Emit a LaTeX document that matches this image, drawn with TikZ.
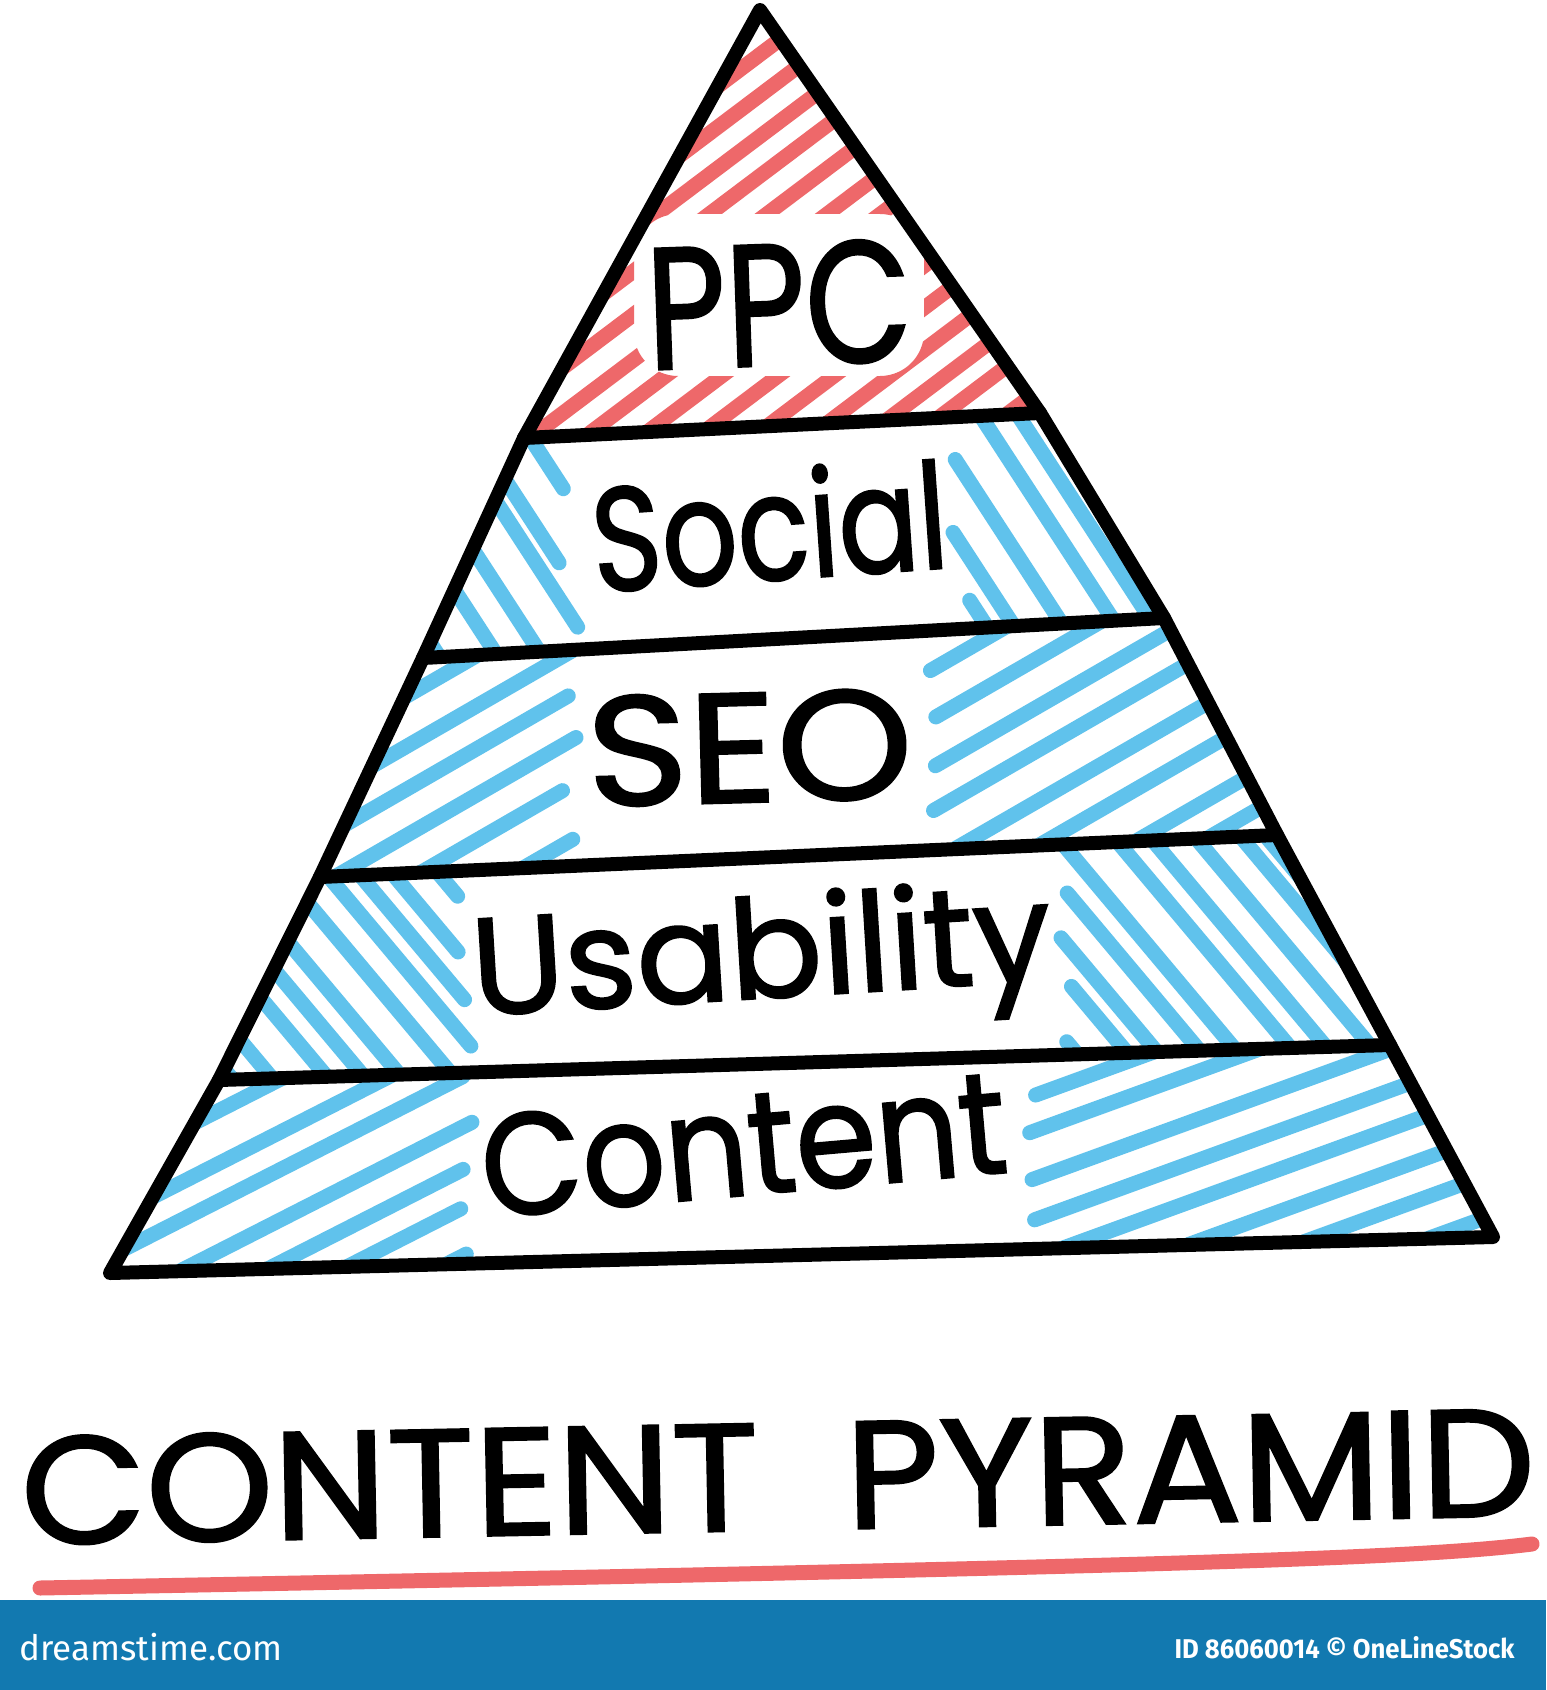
\documentclass[tikz,border=0pt]{standalone}
\usepackage{fontspec}
\usepackage{graphicx}
\newfontfamily\hand{Poppins}[FakeBold=1.6]
\newfontfamily\barfont{Fira Sans}
\definecolor{hatchred}{RGB}{238,104,106}
\definecolor{hatchblue}{RGB}{96,194,236}
\definecolor{barblue}{RGB}{18,121,176}
\tikzset{
  pyramidline/.style={line width=7pt, line join=round, line cap=round, black},
  hatchline/.style={line width=7.5pt, line cap=round},
  bandtext/.style={inner sep=0pt, anchor=base},
}
% #1 x start, #2 first y, #3 y step, #4 count, #5 angle, #6 length
\newcommand\hatchrun[6]{%
  \foreach \i in {0,...,#4}{%
    \pgfmathsetmacro\hx{#1+10*rand}%
    \pgfmathsetmacro\hy{#2+\i*#3+4*rand}%
    \draw[hatchline] (\hx,\hy) -- ++(#5:#6);
  }}
\begin{document}
\begin{tikzpicture}[x=0.5pt,y=-0.5pt]
\pgfmathsetseed{4242}
\useasboundingbox (0,0) rectangle (1546,1690);
\fill[white] (0,0) rectangle (1546,1690);

\coordinate (A) at (760,10);
\coordinate (L1l) at (524,438);
\coordinate (L1r) at (1040,413);
\coordinate (L2l) at (423,658);
\coordinate (L2r) at (1164,618);
\coordinate (L3l) at (320,877);
\coordinate (L3r) at (1277,835);
\coordinate (L4l) at (219,1080);
\coordinate (L4r) at (1390,1045);
\coordinate (Bl) at (110,1273);
\coordinate (Br) at (1493,1237);

% PPC hatching
\begin{scope}[hatchred]
\clip (A) -- (L1l) -- (L1r) -- cycle [rounded corners=22pt] (634,214) -- (924,214) -- (924,376) -- (634,376) -- cycle;
\foreach \i in {0,...,17}{%
  \pgfmathsetmacro\hy{10+\i*42+4*rand}%
  \draw[hatchline] (760,\hy) ++(143:700) -- ++(-37:1400);
}
\end{scope}

% Social
\begin{scope}[hatchblue]
\clip (L1l) -- (L2l) -- (L2r) -- (L1r) -- cycle;
\hatchrun{568}{420}{70}{8}{237}{400}
\hatchrun{962}{110}{70}{9}{57}{700}
\end{scope}

% SEO
\begin{scope}[hatchblue]
\clip (L2l) -- (L3l) -- (L3r) -- (L2r) -- cycle;
\hatchrun{572}{500}{48}{9}{150}{400}
\hatchrun{935}{620}{48}{11}{-30}{500}
\end{scope}

% Usability
\begin{scope}[hatchblue]
\clip (L3l) -- (L4l) -- (L4r) -- (L3r) -- cycle;
\hatchrun{465}{850}{50}{12}{230}{500}
\hatchrun{1068}{440}{50}{14}{50}{600}
\end{scope}

% Content
\begin{scope}[hatchblue]
\clip (L4l) -- (Bl) -- (Br) -- (L4r) -- cycle;
\hatchrun{462}{860}{44}{11}{153}{500}
\hatchrun{1030}{1050}{42}{10}{-20}{600}
\end{scope}

% outline and band lines
\draw[pyramidline] (Bl) -- (L4l) -- (L3l) -- (L2l) -- (L1l) -- (A) -- (L1r) -- (L2r) -- (L3r) -- (L4r) -- (Br) -- cycle;
\draw[pyramidline] (L1l) -- (L1r);
\draw[pyramidline] (L2l) -- (L2r);
\draw[pyramidline] (L3l) -- (L3r);
\draw[pyramidline] (L4l) -- (L4r);

% labels
\node[bandtext, rotate=2] (ppc) at (781,365) {\resizebox{132.5pt}{61pt}{\hand PPC}};
\node[bandtext, rotate=4] (social) at (773,580) {\resizebox{178pt}{56pt}{\hand Social}};
\node[bandtext, rotate=1.5] (seo) at (751,802) {\resizebox{163pt}{55pt}{\hand SEO}};
\node[bandtext, rotate=3.5] (usab) at (764,998) {\resizebox{290pt}{52.5pt}{\hand Usability}};
\node[bandtext, rotate=5] (content) at (748,1195) {\resizebox{263pt}{51pt}{\hand Content}};

% title and underline
\node[bandtext, rotate=1.1] (title) at (779,1530) {\resizebox{757pt}{54pt}{\hand CONTENT\ \ PYRAMID}};
\coordinate (u1) at (40,1588);
\coordinate (u2) at (1532,1544);
\draw[hatchred, line width=7.5pt, line cap=round] (u1) .. controls (1200,1566) and (1420,1558) .. (u2);

% bottom bar
\fill[barblue] (0,1600) rectangle (1546,1690);
\node[anchor=base west, inner sep=0pt, text=white] (ds) at (19,1660) {\resizebox{131.5pt}{!}{\barfont dreamstime.com}};
\node[anchor=base east, inner sep=0pt, text=white] (id) at (1515,1658) {\resizebox{170pt}{11pt}{\barfont\bfseries ID 86060014 © OneLineStock}};
\end{tikzpicture}
\end{document}
